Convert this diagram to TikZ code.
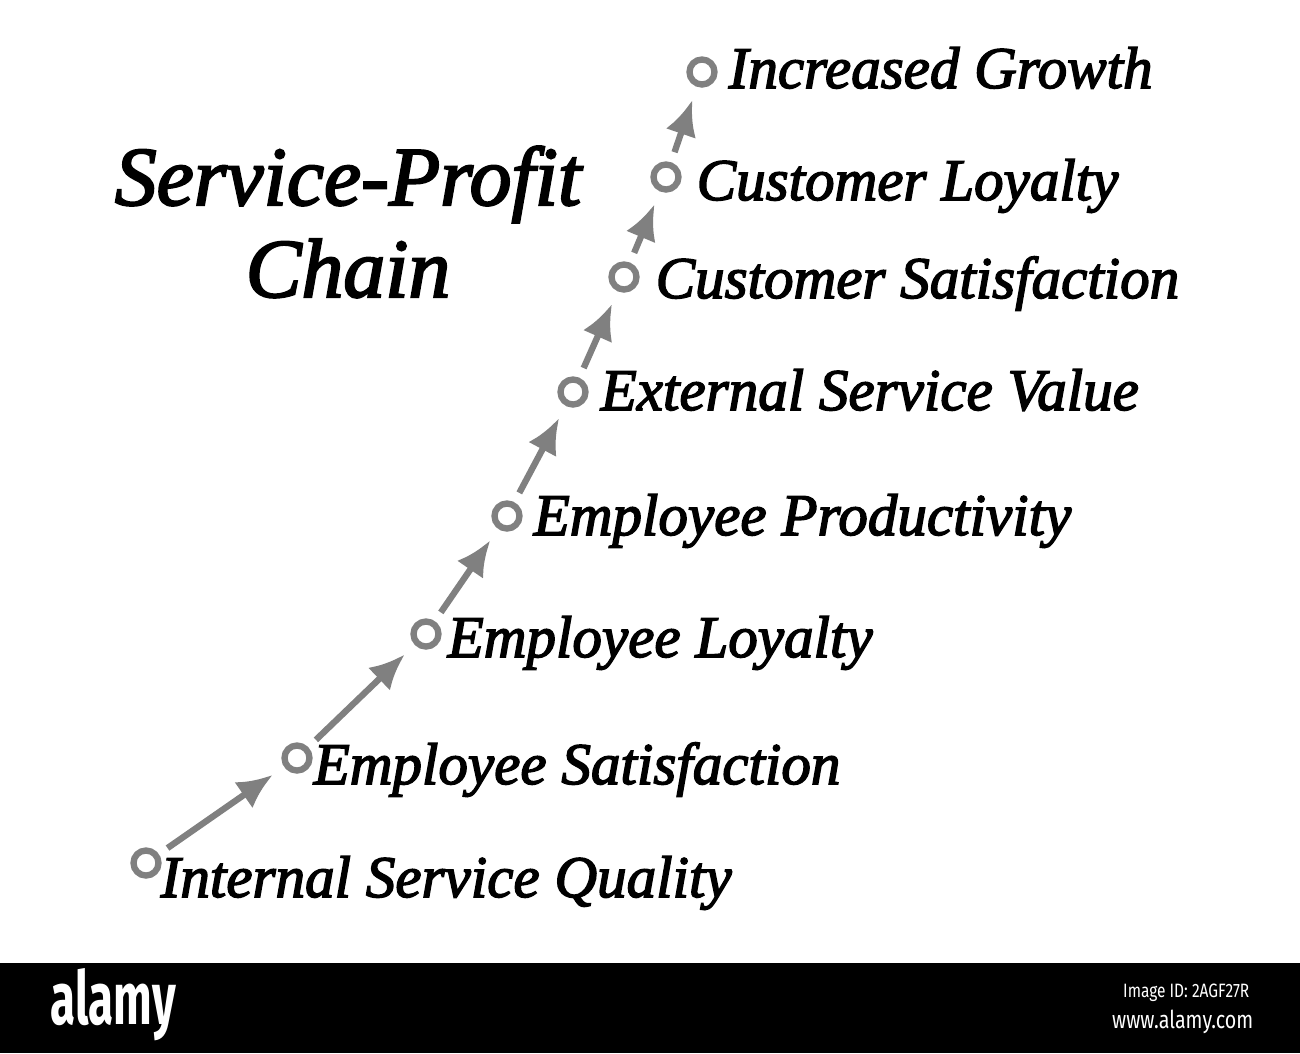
\documentclass[tikz,border=0pt]{standalone}
\usepackage{fontspec}
\setmainfont{Liberation Serif}
\newfontfamily\labfont[FakeBold=2.5,ItalicFeatures={FakeBold=2.5}]{Liberation Serif}
\newfontfamily\wmfont{Fira Sans}
\usetikzlibrary{arrows.meta}
\definecolor{ring}{RGB}{128,128,128}
\tikzset{
  ringnode/.style={circle,draw=ring,line width=1.8pt,minimum size=0.25cm,inner sep=0pt,fill=white},
  lab/.style={anchor=base west,inner sep=0pt,font=\labfont\itshape\fontsize{16.8}{18}\selectfont},
  ttl/.style={anchor=base,inner sep=0pt,font=\labfont\itshape\fontsize{23.8}{28}\selectfont},
  link/.style={draw=ring,line width=1.8pt,-{Latex[length=10pt,width=9pt]},shorten <=3pt,shorten >=4pt}
}
\begin{document}
\begin{tikzpicture}[x=0.01cm,y=-0.01cm]
\useasboundingbox (0,0) rectangle (1300,1053);
\fill[white] (0,0) rectangle (1300,963);
\fill[black] (0,963) rectangle (1300,1053);
% title
\node[ttl] (t1) at (348,205) {Service-Profit};
\node[ttl] (t2) at (348,297) {Chain};
% rings
\node[ringnode] (c1) at (146,863) {};
\node[ringnode] (c2) at (297,758) {};
\node[ringnode] (c3) at (426,634) {};
\node[ringnode] (c4) at (507,516) {};
\node[ringnode] (c5) at (573,392) {};
\node[ringnode] (c6) at (624,277) {};
\node[ringnode] (c7) at (666,177) {};
\node[ringnode] (c8) at (702,72) {};
% labels
\node[lab] (l1) at (160,897) {Internal Service Quality};
\node[lab] (l2) at (313,784) {Employee Satisfaction};
\node[lab] (l3) at (447,657) {Employee Loyalty};
\node[lab] (l4) at (533,535) {Employee Productivity};
\node[lab] (l5) at (600,410) {External Service Value};
\node[lab] (l6) at (655,298) {Customer Satisfaction};
\node[lab] (l7) at (696,200) {Customer Loyalty};
\node[lab] (l8) at (728,88) {Increased Growth};
% arrows
\draw[link] (c1) -- (c2);
\draw[link] (c2) -- (c3);
\draw[link] (c3) -- (c4);
\draw[link] (c4) -- (c5);
\draw[link] (c5) -- (c6);
\draw[link] (c6) -- (c7);
\draw[link] (c7) -- (c8);
% watermark band
\node[anchor=west,inner sep=0pt,text=white,font=\wmfont\bfseries\fontsize{21}{24}\selectfont] (wm) at (50,1005) {\scalebox{0.62}[1]{alamy}};
\node[anchor=east,inner sep=0pt,text=white,font=\wmfont\fontsize{5.5}{7}\selectfont] (wid) at (1250,993) {\scalebox{0.8}[1]{Image ID: 2AGF27R}};
\node[anchor=east,inner sep=0pt,text=white,font=\wmfont\fontsize{7}{9}\selectfont] (wurl) at (1254,1022) {\scalebox{0.8}[1]{www.alamy.com}};
\end{tikzpicture}
\end{document}
